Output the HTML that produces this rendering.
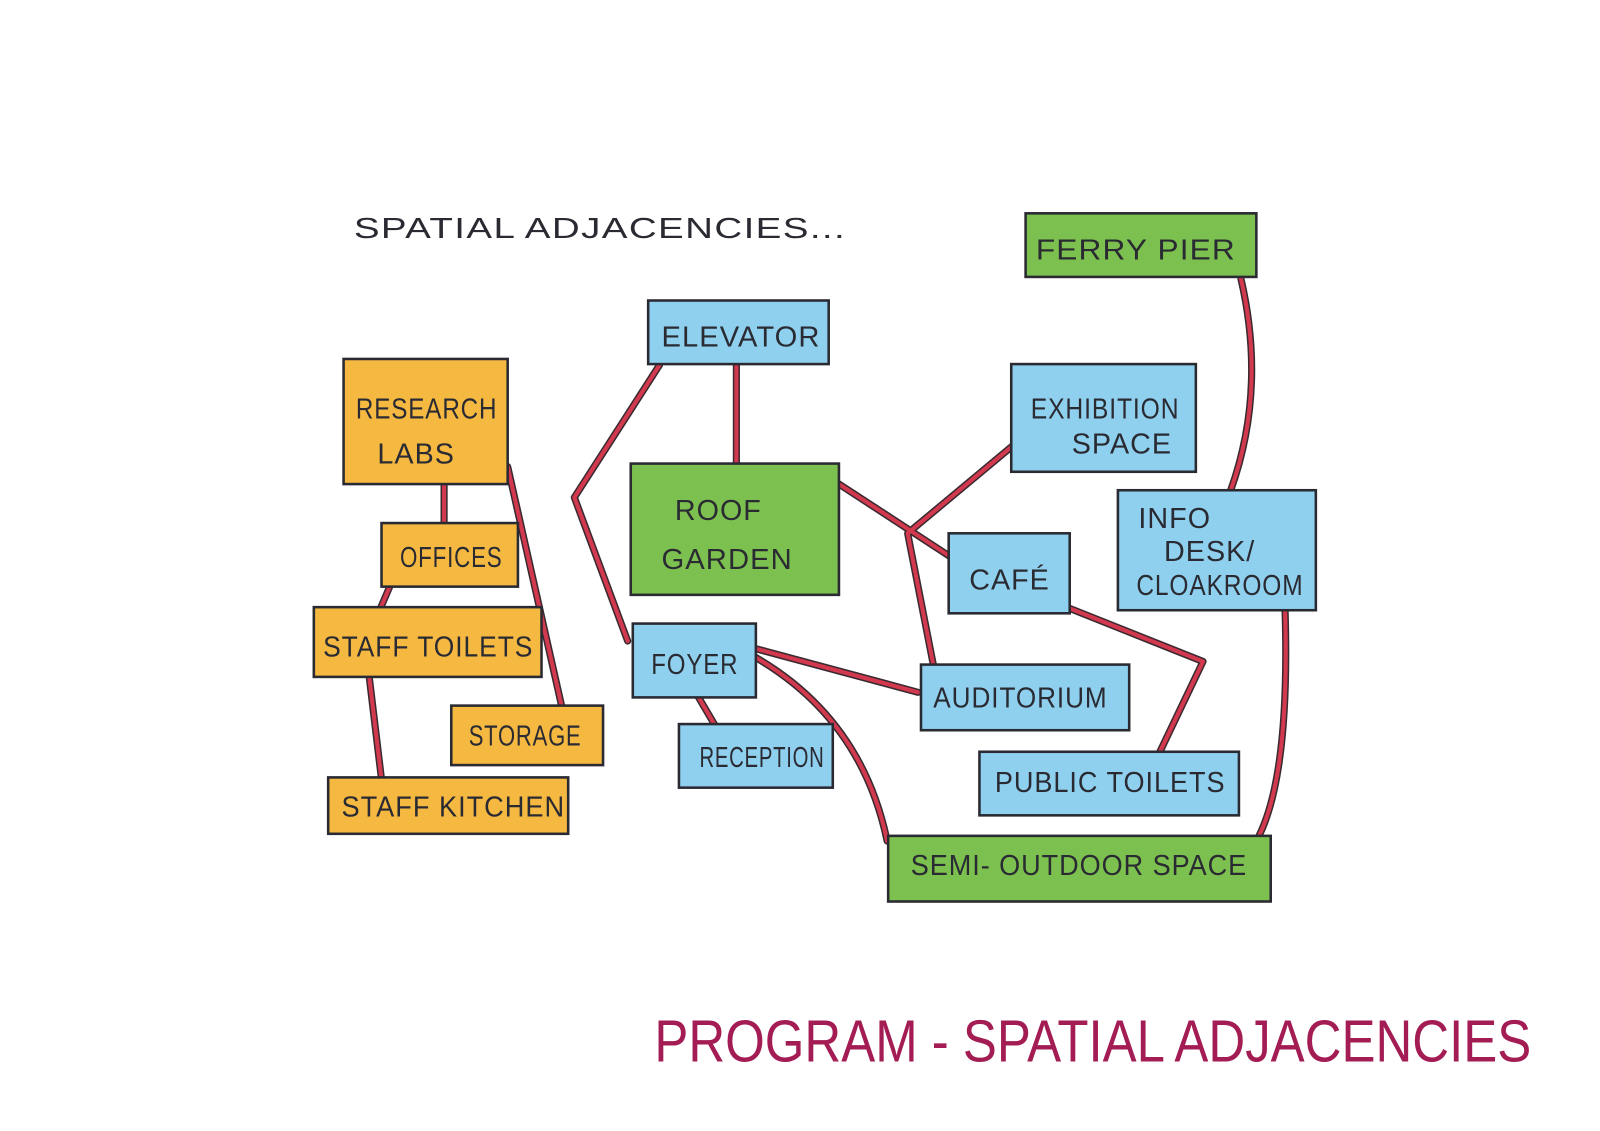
<!DOCTYPE html>
<html><head><meta charset="utf-8"><style>
body{margin:0;background:#fff;}
svg{display:block}
.t{font-family:"Liberation Sans",sans-serif;fill:#2a2a32;font-size:28px;letter-spacing:1px}
</style></head><body>
<svg width="1600" height="1131" viewBox="0 0 1600 1131" xmlns="http://www.w3.org/2000/svg">
<g transform="scale(1.0256)">
<g fill="none" stroke-linecap="round" stroke-linejoin="round">
<g stroke="#3a2a30" stroke-width="7">
<path d="M1210 272 Q1235 380 1200 478"/>
<path d="M643 356 L560 485 L612 625"/>
<path d="M718 356 L718 452"/>
<path d="M815 470 L930 545"/>
<path d="M993 430 L885 520 L910 648"/>
<path d="M433 465 L433 512"/>
<path d="M495 455 L548 690"/>
<path d="M380 572 L368 600"/>
<path d="M360 660 L372 760"/>
<path d="M735 632 L895 675"/>
<path d="M680 678 L697 707"/>
<path d="M735 640 Q840 700 865 820"/>
<path d="M1040 592 L1173 645 L1130 735"/>
<path d="M1253 595 Q1258 760 1225 820"/>
</g>
<g stroke="#d2394f" stroke-width="4">
<path d="M1210 272 Q1235 380 1200 478"/>
<path d="M643 356 L560 485 L612 625"/>
<path d="M718 356 L718 452"/>
<path d="M815 470 L930 545"/>
<path d="M993 430 L885 520 L910 648"/>
<path d="M433 465 L433 512"/>
<path d="M495 455 L548 690"/>
<path d="M380 572 L368 600"/>
<path d="M360 660 L372 760"/>
<path d="M735 632 L895 675"/>
<path d="M680 678 L697 707"/>
<path d="M735 640 Q840 700 865 820"/>
<path d="M1040 592 L1173 645 L1130 735"/>
<path d="M1253 595 Q1258 760 1225 820"/>
</g>
</g>
<g stroke="#2a2a32" stroke-width="2.5">
<rect x="1000" y="208" width="225" height="62" fill="#7cc04f"/>
<rect x="632" y="293" width="176" height="62" fill="#8fd0ee"/>
<rect x="335" y="350" width="160" height="122" fill="#f5b942"/>
<rect x="986" y="355" width="180" height="105" fill="#8fd0ee"/>
<rect x="615" y="452" width="203" height="128" fill="#7cc04f"/>
<rect x="372" y="510" width="133" height="62" fill="#f5b942"/>
<rect x="925" y="520" width="118" height="78" fill="#8fd0ee"/>
<rect x="1090" y="478" width="193" height="117" fill="#8fd0ee"/>
<rect x="306" y="592" width="222" height="68" fill="#f5b942"/>
<rect x="617" y="608" width="120" height="72" fill="#8fd0ee"/>
<rect x="898" y="648" width="203" height="64" fill="#8fd0ee"/>
<rect x="440" y="688" width="148" height="58" fill="#f5b942"/>
<rect x="662" y="706" width="150" height="62" fill="#8fd0ee"/>
<rect x="955" y="733" width="253" height="62" fill="#8fd0ee"/>
<rect x="320" y="758" width="234" height="55" fill="#f5b942"/>
<rect x="866" y="815" width="373" height="64" fill="#7cc04f"/>
</g>
<g lengthAdjust="spacingAndGlyphs">
<text class="t" x="345" y="232" font-size="30" letter-spacing="4" textLength="480" lengthAdjust="spacingAndGlyphs">SPATIAL  ADJACENCIES...</text>
<text class="t" x="1010" y="253" textLength="195" lengthAdjust="spacingAndGlyphs">FERRY  PIER</text>
<text class="t" x="645" y="338" textLength="155" lengthAdjust="spacingAndGlyphs">ELEVATOR</text>
<text class="t" x="347" y="408" font-size="27" textLength="138" lengthAdjust="spacingAndGlyphs">RESEARCH</text>
<text class="t" x="368" y="452">LABS</text>
<text class="t" x="1005" y="408" font-size="26" textLength="145" lengthAdjust="spacingAndGlyphs">EXHIBITION</text>
<text class="t" x="1045" y="442">SPACE</text>
<text class="t" x="658" y="507" font-size="32">ROOF</text>
<text class="t" x="645" y="555" font-size="32" textLength="128" lengthAdjust="spacingAndGlyphs">GARDEN</text>
<text class="t" x="390" y="553" font-size="27" textLength="100" lengthAdjust="spacingAndGlyphs">OFFICES</text>
<text class="t" x="945" y="575" font-size="30">CAFÉ</text>
<text class="t" x="1110" y="515" font-size="25">INFO</text>
<text class="t" x="1135" y="547" font-size="25">DESK/</text>
<text class="t" x="1108" y="580" font-size="24" textLength="163" lengthAdjust="spacingAndGlyphs">CLOAKROOM</text>
<text class="t" x="315" y="640" font-size="27" textLength="205" lengthAdjust="spacingAndGlyphs">STAFF  TOILETS</text>
<text class="t" x="635" y="657" textLength="85" lengthAdjust="spacingAndGlyphs">FOYER</text>
<text class="t" x="910" y="690" font-size="28" textLength="170" lengthAdjust="spacingAndGlyphs">AUDITORIUM</text>
<text class="t" x="457" y="727" font-size="28" textLength="110" lengthAdjust="spacingAndGlyphs">STORAGE</text>
<text class="t" x="682" y="748" font-size="26" textLength="122" lengthAdjust="spacingAndGlyphs">RECEPTION</text>
<text class="t" x="970" y="772" font-size="28" textLength="225" lengthAdjust="spacingAndGlyphs">PUBLIC  TOILETS</text>
<text class="t" x="333" y="796" font-size="28" textLength="218" lengthAdjust="spacingAndGlyphs">STAFF  KITCHEN</text>
<text class="t" x="888" y="853" font-size="25" textLength="328" lengthAdjust="spacingAndGlyphs">SEMI- OUTDOOR  SPACE</text>
</g>
<text x="638" y="1035" font-family="Liberation Sans,sans-serif" font-size="58" fill="#a31c53" textLength="855" lengthAdjust="spacingAndGlyphs">PROGRAM - SPATIAL ADJACENCIES</text>
</g>
</svg>
</body></html>
